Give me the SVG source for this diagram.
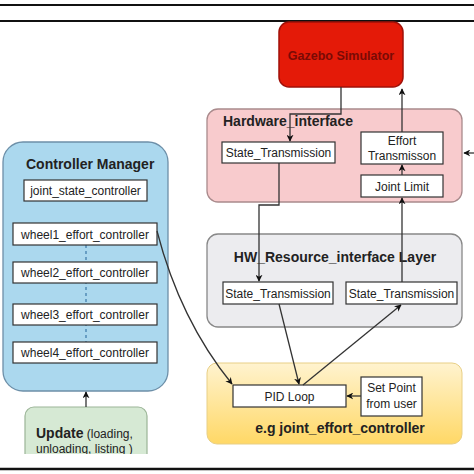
<svg xmlns="http://www.w3.org/2000/svg" width="474" height="474" viewBox="0 0 474 474">
<defs>
<style>
.t{font-family:"Liberation Sans",Arial,sans-serif;fill:#222}
.b{font-weight:bold}
.box{fill:#fff;stroke:#333;stroke-width:1.2}
.ln{fill:none;stroke:#333;stroke-width:1.3}
</style>
<marker id="ah" viewBox="0 0 10 10" refX="9" refY="5" markerWidth="7" markerHeight="7" orient="auto-start-reverse" markerUnits="userSpaceOnUse">
<path d="M0,0 L10,5 L0,10 L3,5 Z" fill="#111"/>
</marker>
<linearGradient id="yg" x1="0" y1="0" x2="0" y2="1">
<stop offset="0" stop-color="#fff3cf"/>
<stop offset="1" stop-color="#ffd866"/>
</linearGradient>
<clipPath id="clipU"><rect x="0" y="395" width="200" height="59"/></clipPath>
</defs>
<rect width="474" height="474" fill="#fff"/>
<g id="frame">
<line x1="0" y1="5" x2="474" y2="5" stroke="#111" stroke-width="2.2"/>
<line x1="0" y1="21" x2="474" y2="21" stroke="#111" stroke-width="2.2"/>
<line x1="0" y1="469" x2="474" y2="469" stroke="#111" stroke-width="2.5"/>
</g>
<g id="gazebo">
<rect x="279" y="22" width="124" height="65" rx="10" fill="#e41a08" stroke="#a01008" stroke-width="1.5"/>
<text class="t b" x="341" y="60" font-size="12.5" text-anchor="middle" style="fill:#7a0a05">Gazebo Simulator</text>
</g>
<g id="hardware_interface">
<rect x="207" y="109" width="255" height="93" rx="11" fill="#f8cbcd" stroke="#a98a8c" stroke-width="1.3"/>
<text class="t b" x="223" y="126" font-size="14">Hardware_interface</text>
<rect class="box" x="222" y="142" width="113" height="21"/>
<text class="t" x="278.5" y="157" font-size="12" text-anchor="middle">State_Transmission</text>
<rect class="box" x="361" y="132" width="82" height="32"/>
<text class="t" x="402" y="145" font-size="12" text-anchor="middle">Effort</text>
<text class="t" x="402" y="160" font-size="12" text-anchor="middle">Transmisson</text>
<rect class="box" x="361" y="175" width="82" height="22"/>
<text class="t" x="402" y="190.5" font-size="12" text-anchor="middle">Joint Limit</text>
</g>
<g id="hw_resource">
<rect x="207" y="234" width="255" height="93" rx="11" fill="#ececef" stroke="#888" stroke-width="1.3"/>
<text class="t b" x="335" y="262" font-size="14" text-anchor="middle">HW_Resource_interface Layer</text>
<rect class="box" x="223" y="282" width="110" height="22"/>
<text class="t" x="278" y="297.5" font-size="12" text-anchor="middle">State_Transmission</text>
<rect class="box" x="346" y="282" width="111" height="22"/>
<text class="t" x="401.5" y="297.5" font-size="12" text-anchor="middle">State_Transmission</text>
</g>
<g id="effort_controller">
<rect x="207" y="363" width="255" height="81" rx="10" fill="url(#yg)" stroke="#e8cf86" stroke-width="1"/>
<rect class="box" x="233" y="385" width="113" height="22"/>
<text class="t" x="289.5" y="400.5" font-size="12" text-anchor="middle">PID Loop</text>
<rect class="box" x="361" y="377" width="61" height="39"/>
<text class="t" x="391.5" y="392" font-size="12" text-anchor="middle">Set Point</text>
<text class="t" x="391.5" y="408" font-size="12" text-anchor="middle">from user</text>
<text class="t b" x="340" y="433" font-size="14" text-anchor="middle">e.g joint_effort_controller</text>
</g>
<g id="controller_manager">
<rect x="3" y="142" width="165" height="249" rx="20" fill="#abd8ee" stroke="#6d8fa8" stroke-width="1.3"/>
<text class="t b" x="26" y="169" font-size="14">Controller Manager</text>
<rect class="box" x="24" y="180" width="123" height="21"/>
<text class="t" x="85.5" y="195" font-size="12" text-anchor="middle">joint_state_controller</text>
<line x1="86" y1="245" x2="86" y2="342" stroke="#3b78a8" stroke-width="1.2" stroke-dasharray="3,3"/>
<rect class="box" x="13" y="223" width="144" height="22"/>
<text class="t" x="85" y="238.5" font-size="12" text-anchor="middle">wheel1_effort_controller</text>
<rect class="box" x="13" y="262" width="144" height="21"/>
<text class="t" x="85" y="277" font-size="12" text-anchor="middle">wheel2_effort_controller</text>
<rect class="box" x="13" y="304" width="144" height="21"/>
<text class="t" x="85" y="319" font-size="12" text-anchor="middle">wheel3_effort_controller</text>
<rect class="box" x="13" y="342" width="144" height="21"/>
<text class="t" x="85" y="357" font-size="12" text-anchor="middle">wheel4_effort_controller</text>
</g>
<g id="update" clip-path="url(#clipU)">
<rect x="25" y="407" width="122" height="70" rx="9" fill="#d6e9d4" stroke="#9bb597" stroke-width="1.2"/>
<text class="t" x="36" y="438" font-size="12"><tspan font-size="14" font-weight="bold">Update</tspan> (loading,</text>
<text class="t" x="36" y="453" font-size="12">unloading, listing )</text>
</g>
<g id="connectors">
<path class="ln" d="M341,87 V114 H290 V141" marker-end="url(#ah)"/>
<path class="ln" d="M402,132 V89" marker-end="url(#ah)"/>
<path class="ln" d="M402,175 V165" marker-end="url(#ah)"/>
<path class="ln" d="M402,282 V198" marker-end="url(#ah)"/>
<path class="ln" d="M279,163 V205 H259 V281" marker-end="url(#ah)"/>
<path class="ln" d="M474,153 H464" marker-end="url(#ah)"/>
<path class="ln" d="M279,304 L299,384" marker-end="url(#ah)"/>
<path class="ln" d="M303,385 L401,305" marker-end="url(#ah)"/>
<path class="ln" d="M361,396 H347" marker-end="url(#ah)"/>
<path class="ln" d="M157,231 Q180,320 232,384" marker-end="url(#ah)"/>
<path class="ln" d="M86,407 V392" marker-end="url(#ah)"/>
</g>
</svg>
